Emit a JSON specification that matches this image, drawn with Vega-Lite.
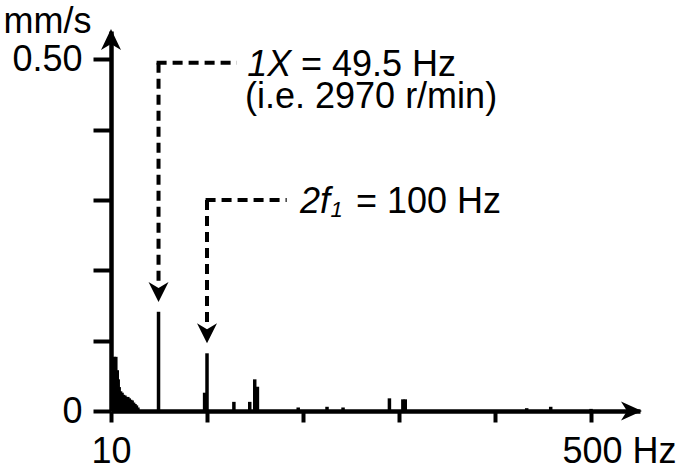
{
  "$schema": "https://vega.github.io/schema/vega-lite/v6.json",
  "width": 529,
  "height": 380,
  "autosize": {"type": "none"},
  "padding": {"left": 111, "top": 31, "right": 42, "bottom": 57},
  "background": "white",
  "config": {"view": {"stroke": null}, "font": "Liberation Sans"},
  "datasets": {
    "spectrum": [
      {"hz": 3.5, "amp": 0.077}, {"hz": 5, "amp": 0.077}, {"hz": 6.5, "amp": 0.058},
      {"hz": 7.5, "amp": 0.045}, {"hz": 8.5, "amp": 0.034}, {"hz": 10, "amp": 0.028},
      {"hz": 11.5, "amp": 0.026}, {"hz": 13, "amp": 0.023}, {"hz": 14.5, "amp": 0.022},
      {"hz": 16, "amp": 0.02}, {"hz": 17.5, "amp": 0.02}, {"hz": 19, "amp": 0.018},
      {"hz": 20.5, "amp": 0.016}, {"hz": 22, "amp": 0.015}, {"hz": 23.5, "amp": 0.012},
      {"hz": 25, "amp": 0.01}, {"hz": 26.5, "amp": 0.008}, {"hz": 28, "amp": 0.005},
      {"hz": 49.5, "amp": 0.141},
      {"hz": 97.5, "amp": 0.026}, {"hz": 100, "amp": 0.082},
      {"hz": 128, "amp": 0.013}, {"hz": 144.5, "amp": 0.013}, {"hz": 149.7, "amp": 0.045}, {"hz": 152.5, "amp": 0.0345},
      {"hz": 195, "amp": 0.005}, {"hz": 225, "amp": 0.006}, {"hz": 241.7, "amp": 0.005},
      {"hz": 290, "amp": 0.018}, {"hz": 304, "amp": 0.0166}, {"hz": 306.5, "amp": 0.0166},
      {"hz": 433, "amp": 0.004}, {"hz": 458, "amp": 0.006}, {"hz": 500, "amp": 0.003}
    ],
    "arrows": [
      {"hz": 0, "amp": 0.54, "dir": "up"},
      {"hz": 551, "amp": 0, "dir": "right"},
      {"hz": 49.5, "amp": 0.155, "dir": "down"},
      {"hz": 100, "amp": 0.0962, "dir": "down"}
    ],
    "dashes": [
      {"hz": 47.5, "hz2": 131, "amp": 0.495, "amp2": 0.495},
      {"hz": 49.5, "hz2": 49.5, "amp": 0.495, "amp2": 0.184},
      {"hz": 98.5, "hz2": 183, "amp": 0.30, "amp2": 0.30},
      {"hz": 100, "hz2": 100, "amp": 0.30, "amp2": 0.125}
    ],
    "labels": [
      {"t": "1X", "hz": 142, "amp": 0.476, "kind": "italic"},
      {"t": "= 49.5 Hz", "hz": 197.9, "amp": 0.476, "kind": "normal"},
      {"t": "(i.e. 2970 r/min)", "hz": 139.6, "amp": 0.4306, "kind": "normal"},
      {"t": "2f", "hz": 196.9, "amp": 0.281, "kind": "italic"},
      {"t": "1", "hz": 228.5, "amp": 0.276, "kind": "sub"},
      {"t": "= 100 Hz", "hz": 255.2, "amp": 0.281, "kind": "normal"}
    ]
  },
  "encoding": {
    "x": {
      "field": "hz", "type": "quantitative",
      "scale": {"domain": [0, 551], "nice": false, "zero": false},
      "axis": {
        "values": [0, 100, 200, 300, 400, 500],
        "labelExpr": "datum.value==0?'10':datum.value==500?'500 Hz':''",
        "title": null, "grid": false,
        "domainColor": "black", "domainWidth": 4.5,
        "tickColor": "black", "tickWidth": 4, "tickSize": 11,
        "labelFontSize": 36, "labelColor": "black", "labelFont": "Liberation Sans",
        "labelBaseline": "alphabetic", "labelPadding": 40,
        "labelOverlap": false, "labelBound": false, "labelFlush": false,
        "labelOffset": {"condition": {"test": "datum.value==500", "value": 28}, "value": 0}
      }
    },
    "y": {
      "field": "amp", "type": "quantitative",
      "scale": {"domain": [0, 0.54], "nice": false},
      "axis": {
        "values": [0, 0.1, 0.2, 0.3, 0.4, 0.5],
        "labelExpr": "datum.value==0?'0':datum.value==0.5?'0.50':''",
        "grid": false,
        "domainColor": "black", "domainWidth": 4.5,
        "tickColor": "black", "tickWidth": 4, "tickSize": 18,
        "labelFontSize": 36, "labelColor": "black", "labelFont": "Liberation Sans",
        "labelPadding": 11, "labelOverlap": false, "labelBound": false, "labelFlush": false,
        "title": "mm/s", "titleAngle": 0, "titleAlign": "left", "titleBaseline": "alphabetic",
        "titleX": -108, "titleY": 1, "titleFontSize": 36, "titleFontWeight": "normal",
        "titleColor": "black", "titleFont": "Liberation Sans"
      }
    }
  },
  "layer": [
    {
      "data": {"name": "spectrum"},
      "mark": {"type": "rule", "color": "black", "strokeWidth": 3.5},
      "encoding": {"y2": {"datum": 0}}
    },
    {
      "data": {"name": "dashes"},
      "mark": {"type": "rule", "color": "black", "strokeWidth": 4, "strokeDash": [10, 6]},
      "encoding": {"x2": {"field": "hz2"}, "y2": {"field": "amp2"}}
    },
    {
      "data": {"name": "arrows"},
      "mark": {"type": "point", "filled": true, "color": "black", "opacity": 1, "size": 400, "strokeWidth": 0},
      "encoding": {
        "shape": {
          "field": "dir", "type": "nominal", "legend": null,
          "scale": {
            "domain": ["up", "right", "down"],
            "range": ["M0,-0.2 L1,1.9 L0,1.3 L-1,1.9 Z", "M0.2,0 L-1.9,-0.95 L-1.3,0 L-1.9,0.95 Z", "M0,0 L1,-2 L0,-1.4 L-1,-2 Z"]
          }
        }
      }
    },
    {
      "data": {"name": "labels"},
      "transform": [{"filter": "datum.kind == 'italic'"}],
      "mark": {"type": "text", "align": "left", "baseline": "alphabetic", "fontSize": 36, "fontStyle": "italic", "color": "black", "font": "Liberation Sans"},
      "encoding": {"text": {"field": "t"}}
    },
    {
      "data": {"name": "labels"},
      "transform": [{"filter": "datum.kind == 'normal'"}],
      "mark": {"type": "text", "align": "left", "baseline": "alphabetic", "fontSize": 36, "color": "black", "font": "Liberation Sans"},
      "encoding": {"text": {"field": "t"}}
    },
    {
      "data": {"name": "labels"},
      "transform": [{"filter": "datum.kind == 'sub'"}],
      "mark": {"type": "text", "align": "left", "baseline": "alphabetic", "fontSize": 22, "fontStyle": "italic", "color": "black", "font": "Liberation Sans"},
      "encoding": {"text": {"field": "t"}}
    }
  ]
}
